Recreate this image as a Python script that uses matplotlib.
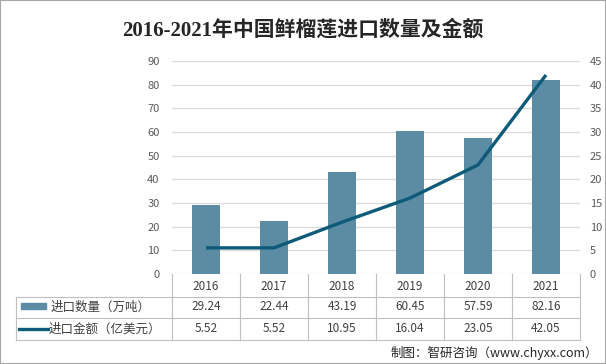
import matplotlib
matplotlib.use("Agg")
import matplotlib.pyplot as plt
from matplotlib.lines import Line2D
from matplotlib.patches import Rectangle
from matplotlib.transforms import blended_transform_factory

plt.rcParams['font.family'] = ['Noto Sans CJK SC', 'DejaVu Sans']

years = ['2016', '2017', '2018', '2019', '2020', '2021']
volume = [29.24, 22.44, 43.19, 60.45, 57.59, 82.16]
amount = [5.52, 5.52, 10.95, 16.04, 23.05, 42.05]
vol_label = '进口数量（万吨）'
amt_label = '进口金额（亿美元）'
title = '2016-2021年中国鲜榴莲进口数量及金额'
source = '制图：智研咨询（www.chyxx.com）'
left_ticks = list(range(0, 91, 10))
right_ticks = list(range(0, 46, 5))

W, H = 606, 364
bar_color = '#5B8CA3'
line_color = '#0E5B79'
grid_color = '#D9D9D9'
tick_color = '#595959'
text_color = '#404040'

fig = plt.figure(figsize=(W / 100, H / 100), dpi=100)
ax = fig.add_axes([172 / W, 1 - 274 / H, (580 - 172) / W, (274 - 61) / H])
ax2 = ax.twinx()

x = list(range(len(years)))
ax.bar(x, volume, width=0.4, color=bar_color, zorder=3)
ax2.plot(x, amount, color=line_color, lw=2.4, zorder=4, solid_capstyle='butt')

ax.set_xlim(-0.5, len(years) - 0.5)
ax.set_ylim(0, 90)
ax2.set_ylim(0, 45)
ax.set_yticks(left_ticks)
ax2.set_yticks(right_ticks)
ax.set_xticks([])
ax.grid(axis='y', color=grid_color, lw=0.9, zorder=0)
ax.set_axisbelow(True)
for a in (ax, ax2):
    for s in a.spines.values():
        s.set_visible(False)
ax.tick_params(axis='y', length=0, pad=9, labelsize=8, labelcolor=tick_color)
ax2.tick_params(axis='y', length=0, pad=7, labelsize=8, labelcolor=tick_color)

# title and source
fig.text(0.5, 1 - 30 / H, title, ha='center', va='center', fontsize=15,
         fontweight='bold', color='#262626',
         family=['Liberation Serif', 'Noto Sans CJK SC'])
fig.text(598 / W, 1 - 353 / H, source, ha='right', va='center', fontsize=9,
         color='#262626')

# data table
def fy(py):
    return 1 - py / H

def fx(px):
    return px / W

bt = blended_transform_factory(ax.transData, fig.transFigure)
tcolor = '#BFBFBF'
n = len(years)
for i in range(n + 1):
    fig.add_artist(Line2D([i - 0.5, i - 0.5], [fy(274), fy(340)], transform=bt,
                          color=tcolor, lw=0.8))
fig.add_artist(Line2D([fx(16), fx(16)], [fy(297), fy(340)], transform=fig.transFigure,
                      color=tcolor, lw=0.8))
for py in (297, 318, 340):
    fig.add_artist(Line2D([fx(16), fx(580)], [fy(py), fy(py)], transform=fig.transFigure,
                          color=tcolor, lw=0.8))

for i, yr in enumerate(years):
    fig.text(i, fy(286), yr, transform=bt, ha='center', va='center',
             fontsize=8.5, color=text_color)
    fig.text(i, fy(307), f'{volume[i]:.2f}', transform=bt, ha='center', va='center',
             fontsize=8.5, color=text_color)
    fig.text(i, fy(329), f'{amount[i]:.2f}', transform=bt, ha='center', va='center',
             fontsize=8.5, color=text_color)

# legend keys
fig.add_artist(Rectangle((fx(21), fy(309)), fx(46) - fx(21), fy(303) - fy(309),
                         transform=fig.transFigure, color=bar_color))
fig.add_artist(Line2D([fx(19), fx(48)], [fy(329), fy(329)], transform=fig.transFigure,
                      color=line_color, lw=2.4))
fig.text(fx(51), fy(307), vol_label, ha='left', va='center', fontsize=9, color=text_color)
fig.text(fx(49), fy(329), amt_label, ha='left', va='center', fontsize=9, color=text_color)

# figure border
fig.add_artist(Rectangle((0, 0), 1, 1, transform=fig.transFigure, fill=False,
                         edgecolor='#A6A6A6', lw=1.5))

fig.savefig('out.png', dpi=100)
